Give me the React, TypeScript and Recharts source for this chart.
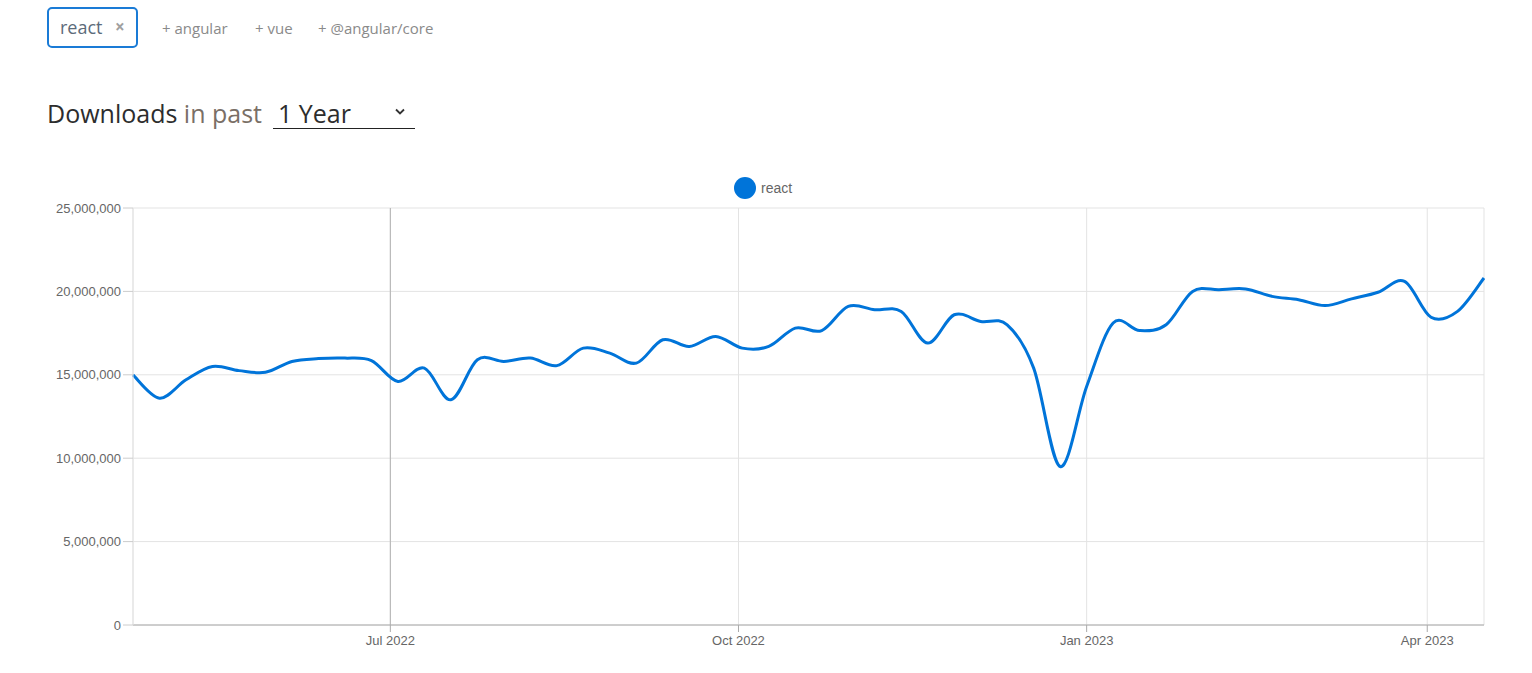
import React from "react";
import {
  LineChart,
  Line,
  XAxis,
  YAxis,
  CartesianGrid,
  ReferenceLine,
} from "recharts";

const startDate = Date.UTC(2022, 3, 24);
const weekMs = 7 * 24 * 3600 * 1000;

const weeklyDownloads: number[] = [
  14990000, 13600000, 14700000, 15500000, 15250000, 15150000, 15800000, 15970000,
  16000000, 15850000, 14600000, 15400000, 13500000, 15900000, 15800000, 16000000,
  15550000, 16600000, 16300000, 15700000, 17100000, 16700000, 17300000, 16600000,
  16700000, 17800000, 17650000, 19100000, 18900000, 18800000, 16900000, 18600000,
  18200000, 18000000, 15400000, 9500000, 14300000, 18100000, 17650000, 18000000,
  20000000, 20100000, 20150000, 19700000, 19500000, 19150000, 19550000, 19950000,
  20600000, 18450000, 18800000, 20800000,
];

const weekDates: number[] = weeklyDownloads.map((_, i) => startDate + i * weekMs);

const xTicks: number[] = [
  Date.UTC(2022, 6, 1),
  Date.UTC(2022, 9, 1),
  Date.UTC(2023, 0, 1),
  Date.UTC(2023, 3, 1),
];
const xTickLabels: string[] = ["Jul 2022", "Oct 2022", "Jan 2023", "Apr 2023"];
const yTicks: number[] = [0, 5000000, 10000000, 15000000, 20000000, 25000000];

const packageName = "react";
const suggestions: string[] = ["angular", "vue", "@angular/core"];

const data = weekDates.map((d, i) => ({ date: d, react: weeklyDownloads[i] }));

const LINE_COLOR = "#0074d9";

const fmtX = (v: number) => {
  const idx = xTicks.indexOf(v);
  return idx >= 0 ? xTickLabels[idx] : "";
};
const fmtY = (v: number) => v.toLocaleString("en-US");

// Catmull-Rom style cardinal curve factory (smooth, passes through points)
const cardinalCurve = (context: any) => {
  let pts: [number, number][] = [];
  const k = 1 / 6;
  return {
    areaStart() {},
    areaEnd() {},
    lineStart() {
      pts = [];
    },
    point(x: number, y: number) {
      pts.push([+x, +y]);
    },
    lineEnd() {
      const n = pts.length;
      if (!n) return;
      context.moveTo(pts[0][0], pts[0][1]);
      if (n === 1) return;
      for (let i = 0; i < n - 1; i++) {
        const p0 = pts[i === 0 ? 0 : i - 1];
        const p1 = pts[i];
        const p2 = pts[i + 1];
        const p3 = pts[i + 2 < n ? i + 2 : n - 1];
        const c1x = p1[0] + (p2[0] - p0[0]) * k;
        const c1y = p1[1] + (p2[1] - p0[1]) * k;
        const c2x = p2[0] - (p3[0] - p1[0]) * k;
        const c2y = p2[1] - (p3[1] - p1[1]) * k;
        context.bezierCurveTo(c1x, c1y, c2x, c2y, p2[0], p2[1]);
      }
    },
  };
};

export default function App() {
  return (
    <div
      style={{
        position: "absolute",
        left: 0,
        top: 0,
        width: 1532,
        height: 673,
        background: "#fff",
        fontFamily: "'Open Sans', 'Noto Sans', sans-serif",
        overflow: "hidden",
      }}
    >
      {/* package pill */}
      <div
        style={{
          position: "absolute",
          left: 47,
          top: 7,
          width: 87,
          height: 37,
          border: "2px solid #1a7bd6",
          borderRadius: 5,
          boxSizing: "content-box",
        }}
      >
        <span
          style={{
            position: "absolute",
            left: 11,
            top: 7,
            fontSize: 18,
            lineHeight: "22px",
            color: "#5c6b7a",
          }}
        >
          {packageName}
        </span>
        <span
          style={{
            position: "absolute",
            left: 66,
            top: 8,
            fontSize: 17,
            lineHeight: "20px",
            color: "#a0a0a0",
            fontWeight: 700,
          }}
        >
          ×
        </span>
      </div>
      {suggestions.map((s, i) => (
        <span
          key={s}
          style={{
            position: "absolute",
            left: [162, 255, 318][i],
            top: 18,
            fontSize: 15,
            lineHeight: "20px",
            color: "#8a8a8a",
            whiteSpace: "nowrap",
          }}
        >
          +&nbsp;{s}
        </span>
      ))}

      {/* title */}
      <div
        style={{
          position: "absolute",
          left: 47,
          top: 95,
          fontSize: 25,
          lineHeight: "36px",
          whiteSpace: "nowrap",
        }}
      >
        <span style={{ color: "#2d2d2d" }}>Downloads</span>
        <span style={{ color: "#7a6f66" }}> in past</span>
      </div>
      <div
        style={{
          position: "absolute",
          left: 273,
          top: 94,
          width: 142,
          height: 34,
          borderBottom: "1.5px solid #222",
        }}
      >
        <span
          style={{
            position: "absolute",
            left: 5,
            top: 1,
            fontSize: 25,
            lineHeight: "36px",
            color: "#2d2d2d",
          }}
        >
          1 Year
        </span>
        <svg
          width={10}
          height={8}
          style={{ position: "absolute", left: 122, top: 14 }}
        >
          <polyline points="1,1.5 5,5.5 9,1.5" fill="none" stroke="#333" strokeWidth={1.8} />
        </svg>
      </div>

      {/* legend */}
      <div
        style={{
          position: "absolute",
          left: 734,
          top: 177,
          display: "flex",
          alignItems: "center",
          fontFamily: "'Liberation Sans', Arial, sans-serif",
        }}
      >
        <span
          style={{
            width: 22,
            height: 22,
            borderRadius: 11,
            background: LINE_COLOR,
            display: "inline-block",
          }}
        />
        <span style={{ marginLeft: 5, fontSize: 14, color: "#666" }}>{packageName}</span>
      </div>

      {/* chart */}
      <div style={{ position: "absolute", left: 0, top: 160 }}>
        <LineChart
          width={1532}
          height={513}
          data={data}
          margin={{ top: 48, right: 48, bottom: 18, left: 0 }}
        >
          <CartesianGrid stroke="#e3e3e3" strokeWidth={1} />
          <XAxis
            dataKey="date"
            type="number"
            scale="time"
            domain={[weekDates[0], weekDates[weekDates.length - 1]]}
            ticks={xTicks}
            tickFormatter={fmtX}
            height={30}
            tickSize={7}
            tickMargin={4}
            stroke="#aaa"
            tick={{ fill: "#666", fontSize: 13, fontFamily: "'Liberation Sans', Arial, sans-serif" }}
            tickLine={{ stroke: "#aaa" }}
            axisLine={{ stroke: "#aaa" }}
          />
          <YAxis
            type="number"
            domain={[0, 25000000]}
            ticks={yTicks}
            tickFormatter={fmtY}
            width={133}
            tickSize={10}
            tickMargin={2}
            tick={{ fill: "#666", fontSize: 13, fontFamily: "'Liberation Sans', Arial, sans-serif" }}
            tickLine={{ stroke: "#ccc" }}
            axisLine={{ stroke: "#e3e3e3" }}
          />
          <ReferenceLine x={xTicks[0]} stroke="#b3b3b3" strokeWidth={1} />
          <Line
            type={cardinalCurve as any}
            dataKey="react"
            stroke={LINE_COLOR}
            strokeWidth={3}
            dot={false}
            activeDot={false}
            isAnimationActive={false}
          />
        </LineChart>
      </div>
    </div>
  );
}
